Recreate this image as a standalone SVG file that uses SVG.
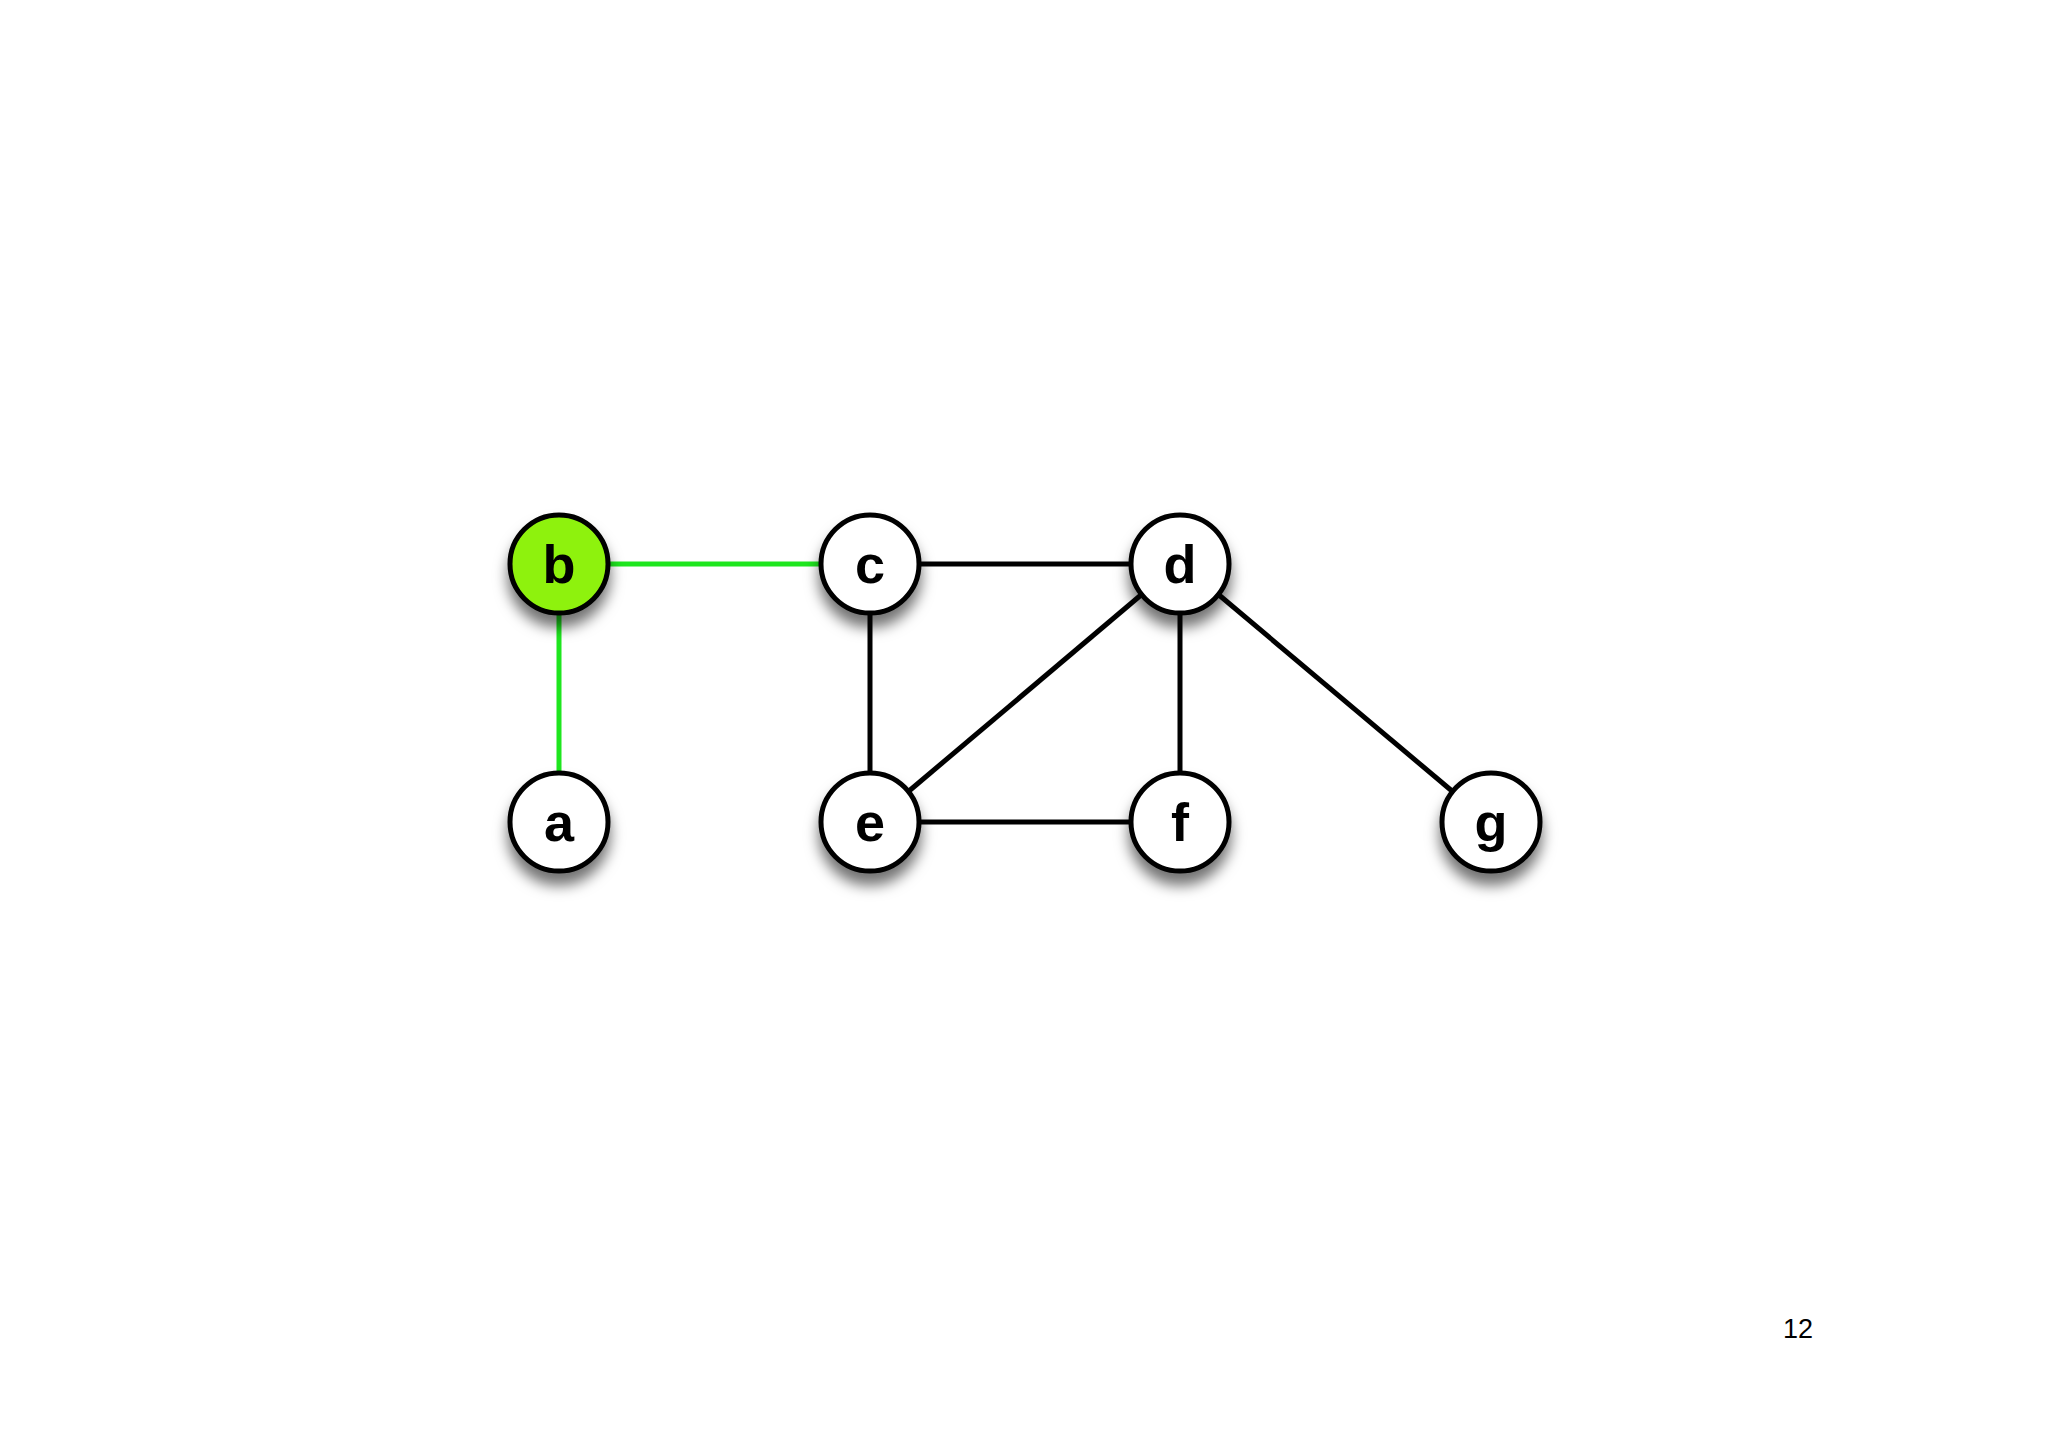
<svg xmlns="http://www.w3.org/2000/svg" width="2048" height="1447" viewBox="0 0 2048 1447">
<style>
.n{fill:#fff;stroke:#000;stroke-width:5;filter:url(#sh)}
.l{font-family:"Liberation Sans",Arial,sans-serif;font-weight:bold;font-size:54px;text-anchor:middle}
.e{stroke:#000;stroke-width:5}
.g{stroke:#1ee61e;stroke-width:5}
</style>
<defs><filter id="sh" x="-50%" y="-50%" width="200%" height="220%"><feDropShadow dx="0" dy="12" stdDeviation="7" flood-color="#000" flood-opacity="0.55"/></filter></defs>
<rect width="2048" height="1447" fill="#fff"/>
<g id="edges">
<line class="g" x1="609" y1="564" x2="820" y2="564"/>
<line class="g" x1="559" y1="614" x2="559" y2="772"/>
<line class="e" x1="920" y1="564" x2="1130" y2="564"/>
<line class="e" x1="870" y1="614" x2="870" y2="772"/>
<line class="e" x1="1141" y1="595" x2="909" y2="791"/>
<line class="e" x1="1180" y1="614" x2="1180" y2="772"/>
<line class="e" x1="920" y1="822" x2="1130" y2="822"/>
<line class="e" x1="1219" y1="595" x2="1452" y2="791"/>
</g>
<g id="b"><circle class="n" cx="559" cy="564" r="49" style="fill:#8ef20f"/><text class="l" x="559" y="583">b</text></g>
<g id="c"><circle class="n" cx="870" cy="564" r="49"/><text class="l" x="870" y="583">c</text></g>
<g id="d"><circle class="n" cx="1180" cy="564" r="49"/><text class="l" x="1180" y="583">d</text></g>
<g id="a"><circle class="n" cx="559" cy="822" r="49"/><text class="l" x="559" y="841">a</text></g>
<g id="e"><circle class="n" cx="870" cy="822" r="49"/><text class="l" x="870" y="841">e</text></g>
<g id="f"><circle class="n" cx="1180" cy="822" r="49"/><text class="l" x="1180" y="841">f</text></g>
<g id="g"><circle class="n" cx="1491" cy="822" r="49"/><text class="l" x="1491" y="841">g</text></g>
<text x="1798" y="1338" font-family="Liberation Sans,Arial,sans-serif" font-size="27" text-anchor="middle">12</text>
</svg>
